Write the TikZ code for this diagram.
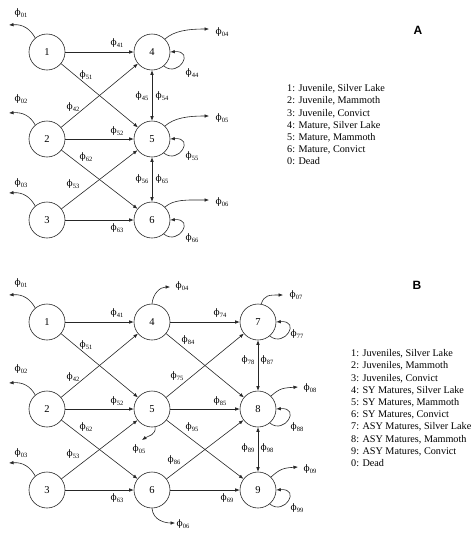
\documentclass[tikz,border=0pt]{standalone}
\usepackage{fontspec}
\setmainfont{Liberation Serif}
\newfontfamily\hsans{Liberation Sans}
\newfontfamily\phfont{DejaVu Serif}
\usetikzlibrary{arrows.meta}
\newcommand\ph[1]{{\phfont\fontsize{9}{10}\selectfont ϕ}\kern0.2pt\raisebox{-0.45ex}{\fontsize{6.5}{7}\selectfont #1}}
\begin{document}
\begin{tikzpicture}[x=1pt,y=1pt,
  st/.style={circle,draw=black!85,line width=0.6pt,minimum size=36pt,inner sep=0pt,font=\fontsize{10.5}{12}\selectfont},
  arr/.style={draw=black!85,line width=0.6pt,-{Latex[length=4.5pt,width=3.6pt]}},
  dbl/.style={draw=black!85,line width=0.6pt,{Latex[length=4.5pt,width=3.6pt]}-{Latex[length=4.5pt,width=3.6pt]}},
  lab/.style={inner sep=0pt,font=\fontsize{10}{11}\selectfont},
  legend/.style={inner sep=0pt,align=left,anchor=north west,font=\fontsize{10.2}{12.2}\selectfont},
  panel/.style={inner sep=0pt,font=\hsans\bfseries\fontsize{12}{12}\selectfont}]
\useasboundingbox (0,0) rectangle (474,-539);
% ---------------- Panel A ----------------
\node[panel] (A) at (418,-30) {A};
\node[st] (a1) at (47,-52) {1};
\node[st] (a2) at (47,-139) {2};
\node[st] (a3) at (47,-220) {3};
\node[st] (a4) at (152,-52) {4};
\node[st] (a5) at (152,-139) {5};
\node[st] (a6) at (152,-220) {6};
\draw[arr] (a1) -- (a4);
\draw[arr] (a1) -- (a5);
\draw[arr] (a2) -- (a4);
\draw[arr] (a2) -- (a5);
\draw[arr] (a2) -- (a6);
\draw[arr] (a3) -- (a5);
\draw[arr] (a3) -- (a6);
\draw[dbl] (a4) -- (a5);
\draw[dbl] (a5) -- (a6);
\coordinate (da1) at (9,-25);
\coordinate (da2) at (9,-113);
\coordinate (da3) at (9,-193);
\coordinate (da4) at (209,-29);
\coordinate (da5) at (209,-116);
\coordinate (da6) at (209,-200);
\foreach \i in {1,2,3}{
  \draw[arr] (a\i.130) .. controls +(-5,9) and +(14,1) .. (da\i);}
\foreach \i in {4,5,6}{
  \draw[arr] (a\i.45) .. controls +(9,8) and +(-22,0) .. (da\i);
  \draw[arr] (a\i.-50) .. controls +(15,-12) and +(25,2) .. (a\i.0);}
\node[lab] (pa01) at (21,-13) {\ph{01}};
\node[lab] (pa02) at (21,-99) {\ph{02}};
\node[lab] (pa03) at (21,-183) {\ph{03}};
\node[lab] (pa04) at (222,-32) {\ph{04}};
\node[lab] (pa05) at (222,-118) {\ph{05}};
\node[lab] (pa06) at (222,-202) {\ph{06}};
\node[lab] (pa44) at (192,-73) {\ph{44}};
\node[lab] (pa55) at (192,-156) {\ph{55}};
\node[lab] (pa66) at (192,-238) {\ph{66}};
\node[lab] (pa41) at (117,-43) {\ph{41}};
\node[lab] (pa51) at (86,-75) {\ph{51}};
\node[lab] (pa42) at (73,-107) {\ph{42}};
\node[lab] (pa52) at (117,-131) {\ph{52}};
\node[lab] (pa62) at (86,-157) {\ph{62}};
\node[lab] (pa53) at (73,-184) {\ph{53}};
\node[lab] (pa63) at (117,-228) {\ph{63}};
\node[lab] (pa45) at (142,-96) {\ph{45}};
\node[lab] (pa54) at (162,-96) {\ph{54}};
\node[lab] (pa56) at (142,-179) {\ph{56}};
\node[lab] (pa65) at (162,-179) {\ph{65}};
\node[legend] (legA) at (287,-84.5) {1: Juvenile, Silver Lake\\2: Juvenile, Mammoth\\3: Juvenile, Convict\\4: Mature, Silver Lake\\5: Mature, Mammoth\\6: Mature, Convict\\0: Dead};
% ---------------- Panel B ----------------
\node[panel] (B) at (417,-285) {B};
\node[st] (b1) at (47,-322) {1};
\node[st] (b2) at (47,-409) {2};
\node[st] (b3) at (47,-490) {3};
\node[st] (b4) at (152,-322) {4};
\node[st] (b5) at (152,-409) {5};
\node[st] (b6) at (152,-490) {6};
\node[st] (b7) at (258,-322) {7};
\node[st] (b8) at (258,-409) {8};
\node[st] (b9) at (258,-490) {9};
\draw[arr] (b1) -- (b4);
\draw[arr] (b1) -- (b5);
\draw[arr] (b2) -- (b4);
\draw[arr] (b2) -- (b5);
\draw[arr] (b2) -- (b6);
\draw[arr] (b3) -- (b5);
\draw[arr] (b3) -- (b6);
\draw[arr] (b4) -- (b7);
\draw[arr] (b4) -- (b8);
\draw[arr] (b5) -- (b7);
\draw[arr] (b5) -- (b8);
\draw[arr] (b5) -- (b9);
\draw[arr] (b6) -- (b8);
\draw[arr] (b6) -- (b9);
\draw[dbl] (b7) -- (b8);
\draw[dbl] (b8) -- (b9);
\coordinate (db1) at (9,-295);
\coordinate (db2) at (9,-383);
\coordinate (db3) at (9,-463);
\coordinate (db4) at (170,-287);
\coordinate (db5) at (142,-440);
\coordinate (db6) at (175,-523);
\coordinate (db7) at (283,-295);
\coordinate (db8) at (298,-387);
\coordinate (db9) at (298,-467);
\foreach \i in {1,2,3}{
  \draw[arr] (b\i.130) .. controls +(-5,9) and +(14,1) .. (db\i);}
\draw[arr] (b4.90) .. controls +(1,10) and +(-10,0) .. (db4);
\draw[arr] (b5.-80) .. controls +(1,-8) and +(6,4) .. (db5);
\draw[arr] (b6.-90) .. controls +(1,-12) and +(-10,0) .. (db6);
\draw[arr] (b7.80) .. controls +(3,9) and +(-14,0) .. (db7);
\foreach \i in {8,9}{
  \draw[arr] (b\i.45) .. controls +(9,8) and +(-15,-1) .. (db\i);}
\foreach \i in {7,8,9}{
  \draw[arr] (b\i.-50) .. controls +(15,-12) and +(25,2) .. (b\i.0);}
\node[lab] (pb01) at (21,-283) {\ph{01}};
\node[lab] (pb02) at (21,-369) {\ph{02}};
\node[lab] (pb03) at (21,-453) {\ph{03}};
\node[lab] (pb04) at (182,-286) {\ph{04}};
\node[lab] (pb05) at (139,-449) {\ph{05}};
\node[lab] (pb06) at (183,-524) {\ph{06}};
\node[lab] (pb07) at (296,-295) {\ph{07}};
\node[lab] (pb08) at (310,-388) {\ph{08}};
\node[lab] (pb09) at (310,-469) {\ph{09}};
\node[lab] (pb77) at (297,-334) {\ph{77}};
\node[lab] (pb88) at (297,-427) {\ph{88}};
\node[lab] (pb99) at (297,-508) {\ph{99}};
\node[lab] (pb41) at (117,-313) {\ph{41}};
\node[lab] (pb51) at (86,-345) {\ph{51}};
\node[lab] (pb42) at (73,-377) {\ph{42}};
\node[lab] (pb52) at (117,-401) {\ph{52}};
\node[lab] (pb62) at (86,-427) {\ph{62}};
\node[lab] (pb53) at (73,-454) {\ph{53}};
\node[lab] (pb63) at (117,-498) {\ph{63}};
\node[lab] (pb74) at (220,-313) {\ph{74}};
\node[lab] (pb84) at (188,-340) {\ph{84}};
\node[lab] (pb75) at (177,-376) {\ph{75}};
\node[lab] (pb85) at (220,-401) {\ph{85}};
\node[lab] (pb95) at (192,-427) {\ph{95}};
\node[lab] (pb86) at (174,-460) {\ph{86}};
\node[lab] (pb69) at (227,-498) {\ph{69}};
\node[lab] (pb78) at (248,-360) {\ph{78}};
\node[lab] (pb87) at (267,-360) {\ph{87}};
\node[lab] (pb89) at (248,-448) {\ph{89}};
\node[lab] (pb98) at (267,-448) {\ph{98}};
\node[legend] (legB) at (351,-349.5) {1: Juveniles, Silver Lake\\2: Juveniles, Mammoth\\3: Juveniles, Convict\\4: SY Matures, Silver Lake\\5: SY Matures, Mammoth\\6: SY Matures, Convict\\7: ASY Matures, Silver Lake\\8: ASY Matures, Mammoth\\9: ASY Matures, Convict\\0: Dead};
\end{tikzpicture}
\end{document}
